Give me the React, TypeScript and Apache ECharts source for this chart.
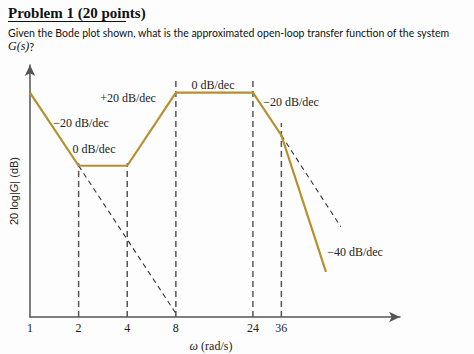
import React, { useEffect, useRef } from "react";
import * as echarts from "echarts";

// Bode magnitude asymptotes (omega in rad/s, magnitude in dB)
const omegaBreaks = [1, 2, 4, 8, 24, 36, 68];
const magnitudeDb = [18.4, 12.4, 12.4, 18.4, 18.4, 14.9, 3.7];

// dashed extensions of asymptotes
const asymptoteA = { omega: [2, 8], db: [12.4, 0.3] };
const asymptoteB = { omega: [36, 84], db: [14.9, 7.4] };

// vertical dashed guides at corner frequencies
const guideOmegas = [2, 4, 8, 24, 36];
const guideTopsDb = [12.6, 12.6, 19.4, 19.4, 15.9];

const tickOmegas = [1, 2, 4, 8, 24, 36];

const slopeLabels = ["+20 dB/dec", "0 dB/dec", "\u221220 dB/dec", "0 dB/dec", "\u221220 dB/dec", "\u221240 dB/dec"];

const lg = (w: number) => Math.log2(w);

export default function App() {
  const ref = useRef<HTMLDivElement>(null);
  useEffect(() => {
    if (!ref.current) return;
    const chart = echarts.init(ref.current, null, { renderer: "svg" });
    const gold = "#b5902c";
    const dashColor = "#333";
    const serif = "Liberation Serif";
    const sans = "Liberation Sans";

    const series: any[] = [];
    series.push({
      type: "line",
      data: omegaBreaks.map((w, i) => [lg(w), magnitudeDb[i]]),
      symbol: "none",
      lineStyle: { color: gold, width: 2.2 },
      z: 5,
    });
    [asymptoteA, asymptoteB].forEach((a) => {
      series.push({
        type: "line",
        data: a.omega.map((w, i) => [lg(w), a.db[i]]),
        symbol: "none",
        lineStyle: { color: dashColor, width: 1.1, type: [5, 4] },
        z: 3,
      });
    });
    guideOmegas.forEach((w, i) => {
      series.push({
        type: "line",
        data: [
          [lg(w), 0],
          [lg(w), guideTopsDb[i]],
        ],
        symbol: "none",
        lineStyle: { color: "#555", width: 1.5, type: [6, 4] },
        z: 2,
      });
    });

    const txt = (text: string, x: number, y: number, extra: any = {}) => ({
      type: "text",
      x,
      y,
      style: {
        text,
        fontFamily: serif,
        fontSize: 12,
        fill: "#222",
        textAlign: "center",
        textVerticalAlign: "middle",
        ...extra,
      },
    });

    chart.setOption({
      animation: false,
      backgroundColor: "#fdfdfd",
      grid: { left: 27, top: 65, width: 373, height: 252 },
      xAxis: {
        type: "value",
        min: 0,
        max: 7.61,
        axisLine: {
          show: true,
          lineStyle: { color: "#555", width: 1.5 },
          symbol: ["none", "arrow"],
          symbolSize: [8, 11],
        },
        axisTick: { show: false },
        splitLine: { show: false },
        axisLabel: {
          customValues: tickOmegas.map(lg),
          formatter: (v: number) => String(Math.round(Math.pow(2, v))),
          fontFamily: serif,
          fontSize: 12,
          color: "#222",
          margin: 5,
          showMinLabel: true,
          showMaxLabel: true,
        },
      },
      yAxis: {
        type: "value",
        min: 0,
        max: 20.66,
        name: "20 log|{i|G}| (dB)",
        nameLocation: "middle",
        nameGap: 11,
        nameRotate: 90,
        nameTextStyle: {
          fontFamily: sans,
          fontSize: 11,
          color: "#222",
          rich: { i: { fontFamily: sans, fontStyle: "italic", fontSize: 11, color: "#222" } },
        },
        axisLine: {
          show: true,
          lineStyle: { color: "#555", width: 1.5 },
          symbol: ["none", "arrow"],
          symbolSize: [8, 11],
        },
        axisTick: { show: false },
        axisLabel: { show: false },
        splitLine: { show: false },
      },
      series,
      graphic: [
        {
          type: "text",
          x: 8,
          y: 5,
          style: {
            text: "Problem 1 (20 points)",
            fontFamily: serif,
            fontWeight: "bold",
            fontSize: 15,
            fill: "#111",
          },
        },
        { type: "rect", shape: { x: 8, y: 21, width: 118, height: 1 }, style: { fill: "#111" } },
        {
          type: "text",
          x: 8,
          y: 27,
          style: {
            text: "Given the Bode plot shown, what is the approximated open-loop transfer function of the system",
            fontFamily: "Lato",
            fontSize: 10.5,
            fill: "#111",
          },
        },
        {
          type: "text",
          x: 8,
          y: 40,
          style: {
            text: "{i|G(s)}?",
            fontFamily: "Lato",
            fontSize: 11,
            fill: "#111",
            rich: { i: { fontFamily: serif, fontStyle: "italic", fontSize: 12 } },
          },
        },
        txt(slopeLabels[0], 128, 98),
        txt(slopeLabels[1], 213, 85),
        txt(slopeLabels[2], 81, 123),
        txt(slopeLabels[3], 94, 149),
        txt(slopeLabels[4], 291, 102),
        txt(slopeLabels[5], 355, 252),
        {
          type: "text",
          x: 211,
          y: 346,
          style: {
            text: "{i|\u03c9} (rad/s)",
            fontFamily: serif,
            fontSize: 12,
            fill: "#222",
            textAlign: "center",
            textVerticalAlign: "middle",
            rich: { i: { fontStyle: "italic", fontFamily: serif, fontSize: 12 } },
          },
        },
      ],
    });
    return () => chart.dispose();
  }, []);
  return <div ref={ref} style={{ width: 474, height: 354, position: "absolute", left: 0, top: 0 }} />;
}
